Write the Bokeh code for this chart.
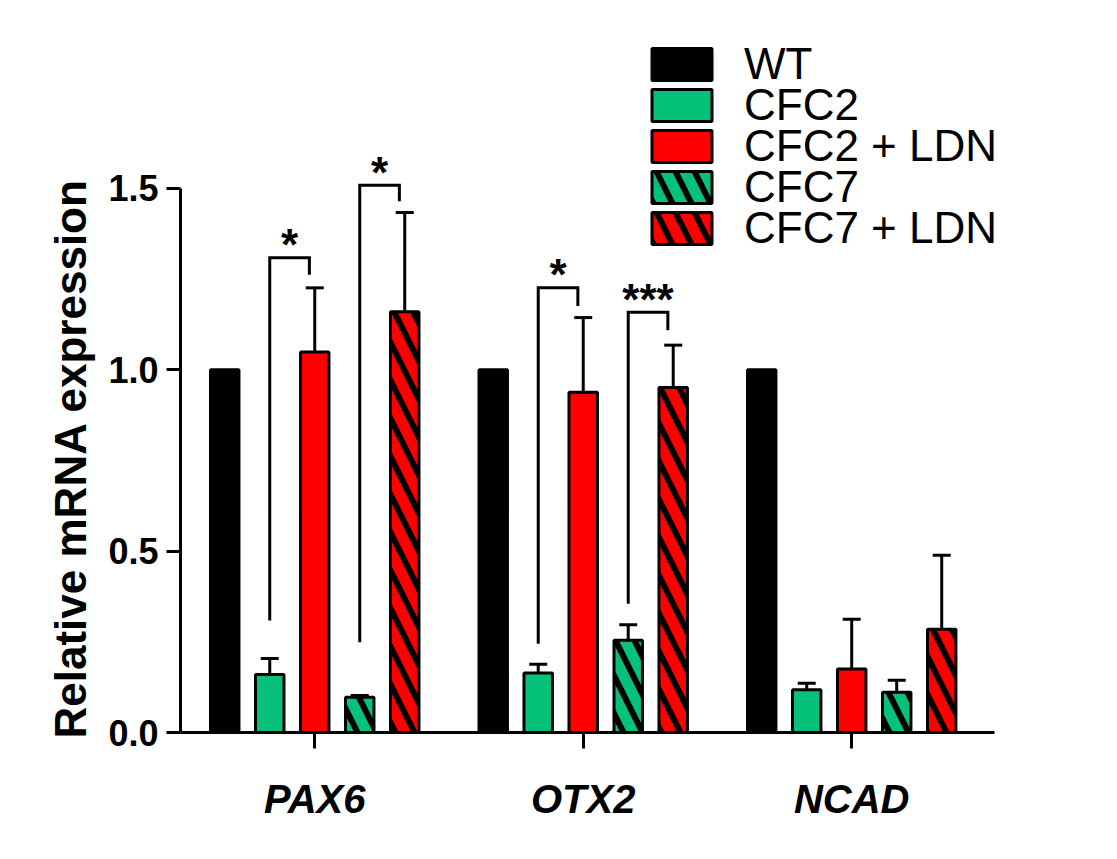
from bokeh.plotting import figure
from bokeh.models import (Range1d, FixedTicker, ColumnDataSource, Legend, LegendItem,
                          Whisker, TeeHead, PrintfTickFormatter, Title)
from bokeh.transform import dodge
from bokeh.core.properties import value
from bokeh.embed import file_html
from bokeh.resources import INLINE

# ---------------- data ----------------
genes = ["PAX6", "OTX2", "NCAD"]
groups = ["WT", "CFC2", "CFC2 + LDN", "CFC7", "CFC7 + LDN"]

wt = [1.0, 1.0, 1.0]
cfc2 = [0.160, 0.164, 0.118]
cfc2_ldn = [1.049, 0.938, 0.175]
cfc7 = [0.097, 0.254, 0.111]
cfc7_ldn = [1.160, 0.951, 0.285]

wt_err = [0.0, 0.0, 0.0]
cfc2_err = [0.044, 0.024, 0.018]
cfc2_ldn_err = [0.177, 0.206, 0.137]
cfc7_err = [0.005, 0.043, 0.033]
cfc7_ldn_err = [0.274, 0.117, 0.204]

y_ticks = [0.0, 0.5, 1.0, 1.5]

# significance brackets
sig_gene = [0, 0, 1, 1]
sig_left = [1, 3, 1, 3]
sig_right = [2, 4, 2, 4]
sig_top = [1.309, 1.509, 1.226, 1.159]
sig_left_end = [0.309, 0.249, 0.245, 0.355]
sig_right_end = [1.262, 1.465, 1.176, 1.109]
sig_label = ["*", "*", "*", "***"]

values = [wt, cfc2, cfc2_ldn, cfc7, cfc7_ldn]
errors = [wt_err, cfc2_err, cfc2_ldn_err, cfc7_err, cfc7_ldn_err]

# ---------------- style ----------------
FONT = "Liberation Sans"
GREEN = "#06C17A"
RED = "#FF0000"
fills = ["#000000", GREEN, RED, GREEN, RED]
hatches = [" ", " ", " ", "\\", "\\"]
STEP = 0.1676           # spacing between bars within a group
BAR_W = 0.106
offsets = [(j - 2) * STEP for j in range(len(groups))]
BRACKET_INSET = 0.02

FRAME_BOTTOM_PX = 732
LEG_X = 464
LEG_FIRST_CENTER_PX = 64
LEG_PITCH_PX = 41
LEG_ROW_HALF_PX = 24.5

p = figure(width=1117, height=859, output_backend="svg", toolbar_location=None,
           x_range=Range1d(-0.5, 2.692), y_range=Range1d(0, 1.9355),
           min_border_left=180, min_border_right=80, min_border_top=30,
           min_border_bottom=127)
p.outline_line_color = None
p.xgrid.grid_line_color = None
p.ygrid.grid_line_color = None
p.background_fill_color = "white"
p.border_fill_color = "white"

renderers = []
for j, g in enumerate(groups):
    src = ColumnDataSource(dict(gi=list(range(len(genes))), top=values[j]))
    r = p.vbar(x=dodge("gi", offsets[j], range=p.x_range), top="top", bottom=0,
               width=BAR_W, source=src, fill_color=fills[j], line_color="black",
               line_width=3, hatch_pattern=hatches[j], hatch_color="black",
               hatch_weight=6, hatch_scale=38)
    renderers.append(r)
    gi = [i for i in range(len(genes)) if errors[j][i] > 0]
    if gi:
        wsrc = ColumnDataSource(dict(
            gi=gi,
            lower=[values[j][i] for i in gi],
            upper=[values[j][i] + errors[j][i] for i in gi]))
        w = Whisker(base=dodge("gi", offsets[j], range=p.x_range), lower="lower",
                    upper="upper", source=wsrc, dimension="height",
                    line_color="black", line_width=3,
                    upper_head=TeeHead(size=18, line_color="black", line_width=3),
                    lower_head=None)
        p.add_layout(w)

# brackets
xs, ys, tx, ty = [], [], [], []
for k in range(len(sig_label)):
    xl = sig_gene[k] + offsets[sig_left[k]]
    xr = sig_gene[k] + offsets[sig_right[k]] - BRACKET_INSET
    xs.append([xl, xl, xr, xr])
    ys.append([sig_left_end[k], sig_top[k], sig_top[k], sig_right_end[k]])
    tx.append((xl + xr) / 2)
    ty.append(sig_top[k])
p.multi_line(xs=xs, ys=ys, line_color="black", line_width=3, line_join="miter")
p.text(x=tx, y=ty, text=sig_label, text_font=value(FONT), text_font_size="44px",
       text_font_style="bold", text_align="center", text_baseline="alphabetic",
       y_offset=-13, text_color="black")

# axes
xa = p.xaxis[0]
xa.ticker = FixedTicker(ticks=list(range(len(genes))))
xa.bounds = (-0.5, 2.53)
xa.major_label_overrides = {i: g for i, g in enumerate(genes)}
xa.major_label_text_font = FONT
xa.major_label_text_font_size = "40px"
xa.major_label_text_font_style = "bold italic"
xa.major_label_text_color = "black"
xa.major_label_standoff = 28
xa.major_tick_in = 0
xa.major_tick_out = 16
xa.minor_tick_line_color = None
xa.axis_line_width = 3
xa.major_tick_line_width = 3
xa.axis_line_color = "black"
xa.major_tick_line_color = "black"

ya = p.yaxis[0]
ya.ticker = FixedTicker(ticks=y_ticks)
ya.formatter = PrintfTickFormatter(format="%.1f")
ya.bounds = (0, 1.5)
ya.major_label_text_font = FONT
ya.major_label_text_font_size = "36px"
ya.major_label_text_font_style = "bold"
ya.major_label_text_color = "black"
ya.major_label_standoff = 8
ya.major_tick_in = 0
ya.major_tick_out = 14
ya.minor_tick_line_color = None
ya.axis_line_width = 3
ya.major_tick_line_width = 3
ya.axis_line_color = "black"
ya.major_tick_line_color = "black"

ylab = Title(text="Relative mRNA expression", align="left", offset=-6,
             text_font=FONT, text_font_size="44px", text_font_style="bold",
             text_color="black", standoff=22)
p.add_layout(ylab, "left")

# legend: one single-row legend per group to control row pitch
for j, (g, r) in enumerate(zip(groups, renderers)):
    center = LEG_FIRST_CENTER_PX + j * LEG_PITCH_PX
    leg = Legend(items=[LegendItem(label=g, renderers=[r])],
                 location=(LEG_X, FRAME_BOTTOM_PX - center - LEG_ROW_HALF_PX),
                 glyph_width=75, glyph_height=40, label_standoff=25,
                 padding=0, margin=0, border_line_color=None,
                 background_fill_alpha=0, label_text_font=FONT,
                 label_text_font_size="44px", label_text_color="black")
    p.add_layout(leg)

open("out.html", "w").write(file_html(p, INLINE))
